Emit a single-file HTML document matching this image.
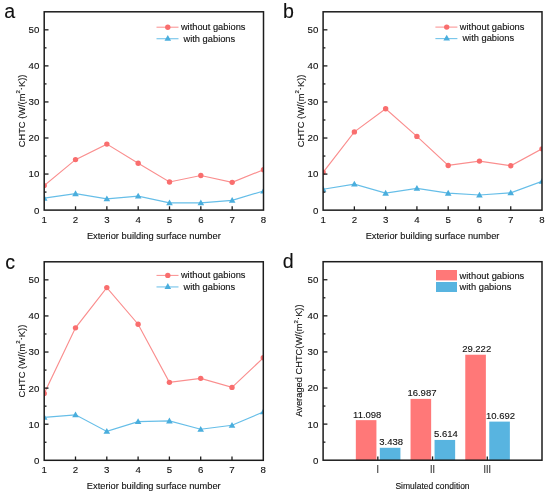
<!DOCTYPE html>
<html><head><meta charset="utf-8"><style>
html,body{margin:0;padding:0;background:#fff;}
svg{display:block;will-change:transform;}
text{font-family:"Liberation Sans",sans-serif;fill:#111;stroke:#111;stroke-width:0.12px;}
</style></head><body>
<svg width="550" height="494" viewBox="0 0 550 494">
<rect width="550" height="494" fill="#fff"/>
<clipPath id="clipa"><rect x="44.2" y="11.8" width="219.3" height="198.3"/></clipPath>
<g clip-path="url(#clipa)">
<polyline points="44.2,185.58 75.53,159.62 106.86,144.12 138.19,163.23 169.51,181.98 200.84,175.49 232.17,182.34 263.5,169.72" fill="none" stroke="#FA8E8E" stroke-width="1.15"/>
<polyline points="44.2,198.2 75.53,193.7 106.86,198.92 138.19,196.04 169.51,202.89 200.84,202.89 232.17,200.37 263.5,190.99" fill="none" stroke="#66BEE8" stroke-width="1.2"/>
<circle cx="44.2" cy="185.58" r="2.7" fill="#F96E6E"/>
<circle cx="75.53" cy="159.62" r="2.7" fill="#F96E6E"/>
<circle cx="106.86" cy="144.12" r="2.7" fill="#F96E6E"/>
<circle cx="138.19" cy="163.23" r="2.7" fill="#F96E6E"/>
<circle cx="169.51" cy="181.98" r="2.7" fill="#F96E6E"/>
<circle cx="200.84" cy="175.49" r="2.7" fill="#F96E6E"/>
<circle cx="232.17" cy="182.34" r="2.7" fill="#F96E6E"/>
<circle cx="263.5" cy="169.72" r="2.7" fill="#F96E6E"/>
<polygon points="40.9,200.64 47.5,200.64 44.2,194.84" fill="#4AAEDD"/>
<polygon points="72.23,196.13 78.83,196.13 75.53,190.33" fill="#4AAEDD"/>
<polygon points="103.56,201.36 110.16,201.36 106.86,195.56" fill="#4AAEDD"/>
<polygon points="134.89,198.47 141.49,198.47 138.19,192.67" fill="#4AAEDD"/>
<polygon points="166.21,205.33 172.81,205.33 169.51,199.53" fill="#4AAEDD"/>
<polygon points="197.54,205.33 204.14,205.33 200.84,199.53" fill="#4AAEDD"/>
<polygon points="228.87,202.8 235.47,202.8 232.17,197" fill="#4AAEDD"/>
<polygon points="260.2,193.43 266.8,193.43 263.5,187.63" fill="#4AAEDD"/>
</g>
<rect x="44.2" y="11.8" width="219.3" height="198.3" fill="none" stroke="#1c1c1c" stroke-width="1.5"/>
<text x="39.4" y="213.5" text-anchor="end" font-size="9.7">0</text>
<line x1="44.2" y1="192.07" x2="46.5" y2="192.07" stroke="#1c1c1c" stroke-width="1.3"/>
<line x1="44.2" y1="174.05" x2="48.5" y2="174.05" stroke="#1c1c1c" stroke-width="1.3"/>
<text x="39.4" y="177.45" text-anchor="end" font-size="9.7">10</text>
<line x1="44.2" y1="156.02" x2="46.5" y2="156.02" stroke="#1c1c1c" stroke-width="1.3"/>
<line x1="44.2" y1="137.99" x2="48.5" y2="137.99" stroke="#1c1c1c" stroke-width="1.3"/>
<text x="39.4" y="141.39" text-anchor="end" font-size="9.7">20</text>
<line x1="44.2" y1="119.96" x2="46.5" y2="119.96" stroke="#1c1c1c" stroke-width="1.3"/>
<line x1="44.2" y1="101.94" x2="48.5" y2="101.94" stroke="#1c1c1c" stroke-width="1.3"/>
<text x="39.4" y="105.34" text-anchor="end" font-size="9.7">30</text>
<line x1="44.2" y1="83.91" x2="46.5" y2="83.91" stroke="#1c1c1c" stroke-width="1.3"/>
<line x1="44.2" y1="65.88" x2="48.5" y2="65.88" stroke="#1c1c1c" stroke-width="1.3"/>
<text x="39.4" y="69.28" text-anchor="end" font-size="9.7">40</text>
<line x1="44.2" y1="47.85" x2="46.5" y2="47.85" stroke="#1c1c1c" stroke-width="1.3"/>
<line x1="44.2" y1="29.83" x2="48.5" y2="29.83" stroke="#1c1c1c" stroke-width="1.3"/>
<text x="39.4" y="33.23" text-anchor="end" font-size="9.7">50</text>
<text x="44.2" y="222.6" text-anchor="middle" font-size="9.7">1</text>
<line x1="75.53" y1="210.1" x2="75.53" y2="206.3" stroke="#1c1c1c" stroke-width="1.3"/>
<text x="75.53" y="222.6" text-anchor="middle" font-size="9.7">2</text>
<line x1="106.86" y1="210.1" x2="106.86" y2="206.3" stroke="#1c1c1c" stroke-width="1.3"/>
<text x="106.86" y="222.6" text-anchor="middle" font-size="9.7">3</text>
<line x1="138.19" y1="210.1" x2="138.19" y2="206.3" stroke="#1c1c1c" stroke-width="1.3"/>
<text x="138.19" y="222.6" text-anchor="middle" font-size="9.7">4</text>
<line x1="169.51" y1="210.1" x2="169.51" y2="206.3" stroke="#1c1c1c" stroke-width="1.3"/>
<text x="169.51" y="222.6" text-anchor="middle" font-size="9.7">5</text>
<line x1="200.84" y1="210.1" x2="200.84" y2="206.3" stroke="#1c1c1c" stroke-width="1.3"/>
<text x="200.84" y="222.6" text-anchor="middle" font-size="9.7">6</text>
<line x1="232.17" y1="210.1" x2="232.17" y2="206.3" stroke="#1c1c1c" stroke-width="1.3"/>
<text x="232.17" y="222.6" text-anchor="middle" font-size="9.7">7</text>
<text x="263.5" y="222.6" text-anchor="middle" font-size="9.7">8</text>
<text x="153.85" y="239" text-anchor="middle" font-size="9.3">Exterior building surface number</text>
<text transform="translate(24.6,110.95) rotate(-90)" text-anchor="middle" font-size="9.3">CHTC (W/(m<tspan font-size="6.2" dy="-4.5">2</tspan><tspan dy="3.5">·</tspan><tspan dy="1">K))</tspan></text>
<line x1="156.5" y1="27.2" x2="178.5" y2="27.2" stroke="#FA8E8E" stroke-width="1"/>
<circle cx="167.8" cy="27.2" r="2.7" fill="#F96E6E"/>
<text x="180.9" y="30.2" font-size="9.3">without gabions</text>
<line x1="156.5" y1="38.75" x2="178.5" y2="38.75" stroke="#66BEE8" stroke-width="1"/>
<polygon points="164.5,40.69 171.1,40.69 167.8,34.89" fill="#4AAEDD"/>
<text x="183.5" y="41.5" font-size="9.3">with gabions</text>
<clipPath id="clipb"><rect x="323.1" y="11.8" width="218.9" height="198.35"/></clipPath>
<g clip-path="url(#clipb)">
<polyline points="323.1,172.28 354.37,131.89 385.64,108.81 416.91,136.4 448.19,165.43 479.46,161.1 510.73,165.79 542,148.84" fill="none" stroke="#FA8E8E" stroke-width="1.15"/>
<polyline points="323.1,189.23 354.37,184.18 385.64,193.2 416.91,188.33 448.19,193.2 479.46,195 510.73,192.84 542,181.3" fill="none" stroke="#66BEE8" stroke-width="1.2"/>
<circle cx="323.1" cy="172.28" r="2.7" fill="#F96E6E"/>
<circle cx="354.37" cy="131.89" r="2.7" fill="#F96E6E"/>
<circle cx="385.64" cy="108.81" r="2.7" fill="#F96E6E"/>
<circle cx="416.91" cy="136.4" r="2.7" fill="#F96E6E"/>
<circle cx="448.19" cy="165.43" r="2.7" fill="#F96E6E"/>
<circle cx="479.46" cy="161.1" r="2.7" fill="#F96E6E"/>
<circle cx="510.73" cy="165.79" r="2.7" fill="#F96E6E"/>
<circle cx="542" cy="148.84" r="2.7" fill="#F96E6E"/>
<polygon points="319.8,191.67 326.4,191.67 323.1,185.87" fill="#4AAEDD"/>
<polygon points="351.07,186.62 357.67,186.62 354.37,180.82" fill="#4AAEDD"/>
<polygon points="382.34,195.64 388.94,195.64 385.64,189.84" fill="#4AAEDD"/>
<polygon points="413.61,190.77 420.21,190.77 416.91,184.97" fill="#4AAEDD"/>
<polygon points="444.89,195.64 451.49,195.64 448.19,189.84" fill="#4AAEDD"/>
<polygon points="476.16,197.44 482.76,197.44 479.46,191.64" fill="#4AAEDD"/>
<polygon points="507.43,195.28 514.03,195.28 510.73,189.48" fill="#4AAEDD"/>
<polygon points="538.7,183.74 545.3,183.74 542,177.94" fill="#4AAEDD"/>
</g>
<rect x="323.1" y="11.8" width="218.9" height="198.35" fill="none" stroke="#1c1c1c" stroke-width="1.5"/>
<text x="318.3" y="213.55" text-anchor="end" font-size="9.7">0</text>
<line x1="323.1" y1="192.12" x2="325.4" y2="192.12" stroke="#1c1c1c" stroke-width="1.3"/>
<line x1="323.1" y1="174.09" x2="327.4" y2="174.09" stroke="#1c1c1c" stroke-width="1.3"/>
<text x="318.3" y="177.49" text-anchor="end" font-size="9.7">10</text>
<line x1="323.1" y1="156.05" x2="325.4" y2="156.05" stroke="#1c1c1c" stroke-width="1.3"/>
<line x1="323.1" y1="138.02" x2="327.4" y2="138.02" stroke="#1c1c1c" stroke-width="1.3"/>
<text x="318.3" y="141.42" text-anchor="end" font-size="9.7">20</text>
<line x1="323.1" y1="119.99" x2="325.4" y2="119.99" stroke="#1c1c1c" stroke-width="1.3"/>
<line x1="323.1" y1="101.96" x2="327.4" y2="101.96" stroke="#1c1c1c" stroke-width="1.3"/>
<text x="318.3" y="105.36" text-anchor="end" font-size="9.7">30</text>
<line x1="323.1" y1="83.93" x2="325.4" y2="83.93" stroke="#1c1c1c" stroke-width="1.3"/>
<line x1="323.1" y1="65.9" x2="327.4" y2="65.9" stroke="#1c1c1c" stroke-width="1.3"/>
<text x="318.3" y="69.3" text-anchor="end" font-size="9.7">40</text>
<line x1="323.1" y1="47.86" x2="325.4" y2="47.86" stroke="#1c1c1c" stroke-width="1.3"/>
<line x1="323.1" y1="29.83" x2="327.4" y2="29.83" stroke="#1c1c1c" stroke-width="1.3"/>
<text x="318.3" y="33.23" text-anchor="end" font-size="9.7">50</text>
<text x="323.1" y="222.65" text-anchor="middle" font-size="9.7">1</text>
<line x1="354.37" y1="210.15" x2="354.37" y2="206.35" stroke="#1c1c1c" stroke-width="1.3"/>
<text x="354.37" y="222.65" text-anchor="middle" font-size="9.7">2</text>
<line x1="385.64" y1="210.15" x2="385.64" y2="206.35" stroke="#1c1c1c" stroke-width="1.3"/>
<text x="385.64" y="222.65" text-anchor="middle" font-size="9.7">3</text>
<line x1="416.91" y1="210.15" x2="416.91" y2="206.35" stroke="#1c1c1c" stroke-width="1.3"/>
<text x="416.91" y="222.65" text-anchor="middle" font-size="9.7">4</text>
<line x1="448.19" y1="210.15" x2="448.19" y2="206.35" stroke="#1c1c1c" stroke-width="1.3"/>
<text x="448.19" y="222.65" text-anchor="middle" font-size="9.7">5</text>
<line x1="479.46" y1="210.15" x2="479.46" y2="206.35" stroke="#1c1c1c" stroke-width="1.3"/>
<text x="479.46" y="222.65" text-anchor="middle" font-size="9.7">6</text>
<line x1="510.73" y1="210.15" x2="510.73" y2="206.35" stroke="#1c1c1c" stroke-width="1.3"/>
<text x="510.73" y="222.65" text-anchor="middle" font-size="9.7">7</text>
<text x="542" y="222.65" text-anchor="middle" font-size="9.7">8</text>
<text x="432.55" y="239.05" text-anchor="middle" font-size="9.3">Exterior building surface number</text>
<text transform="translate(303.5,110.98) rotate(-90)" text-anchor="middle" font-size="9.3">CHTC (W/(m<tspan font-size="6.2" dy="-4.5">2</tspan><tspan dy="3.5">·</tspan><tspan dy="1">K))</tspan></text>
<line x1="435.4" y1="27.1" x2="457.4" y2="27.1" stroke="#FA8E8E" stroke-width="1"/>
<circle cx="446.7" cy="27.1" r="2.7" fill="#F96E6E"/>
<text x="459.8" y="30.1" font-size="9.3">without gabions</text>
<line x1="435.4" y1="38.65" x2="457.4" y2="38.65" stroke="#66BEE8" stroke-width="1"/>
<polygon points="443.4,40.59 450,40.59 446.7,34.79" fill="#4AAEDD"/>
<text x="462.4" y="41.4" font-size="9.3">with gabions</text>
<clipPath id="clipc"><rect x="44.2" y="261.8" width="219.1" height="198.5"/></clipPath>
<g clip-path="url(#clipc)">
<polyline points="44.2,393.53 75.5,327.85 106.8,287.61 138.1,324.24 169.4,382.34 200.7,378.37 232,387.4 263.3,357.8" fill="none" stroke="#FA8E8E" stroke-width="1.15"/>
<polyline points="44.2,417.35 75.5,414.83 106.8,431.43 138.1,421.68 169.4,420.96 200.7,429.26 232,425.29 263.3,411.94" fill="none" stroke="#66BEE8" stroke-width="1.2"/>
<circle cx="44.2" cy="393.53" r="2.7" fill="#F96E6E"/>
<circle cx="75.5" cy="327.85" r="2.7" fill="#F96E6E"/>
<circle cx="106.8" cy="287.61" r="2.7" fill="#F96E6E"/>
<circle cx="138.1" cy="324.24" r="2.7" fill="#F96E6E"/>
<circle cx="169.4" cy="382.34" r="2.7" fill="#F96E6E"/>
<circle cx="200.7" cy="378.37" r="2.7" fill="#F96E6E"/>
<circle cx="232" cy="387.4" r="2.7" fill="#F96E6E"/>
<circle cx="263.3" cy="357.8" r="2.7" fill="#F96E6E"/>
<polygon points="40.9,419.79 47.5,419.79 44.2,413.99" fill="#4AAEDD"/>
<polygon points="72.2,417.26 78.8,417.26 75.5,411.46" fill="#4AAEDD"/>
<polygon points="103.5,433.86 110.1,433.86 106.8,428.06" fill="#4AAEDD"/>
<polygon points="134.8,424.12 141.4,424.12 138.1,418.32" fill="#4AAEDD"/>
<polygon points="166.1,423.4 172.7,423.4 169.4,417.6" fill="#4AAEDD"/>
<polygon points="197.4,431.7 204,431.7 200.7,425.9" fill="#4AAEDD"/>
<polygon points="228.7,427.73 235.3,427.73 232,421.93" fill="#4AAEDD"/>
<polygon points="260,414.37 266.6,414.37 263.3,408.57" fill="#4AAEDD"/>
</g>
<rect x="44.2" y="261.8" width="219.1" height="198.5" fill="none" stroke="#1c1c1c" stroke-width="1.5"/>
<text x="39.4" y="463.7" text-anchor="end" font-size="9.7">0</text>
<line x1="44.2" y1="442.25" x2="46.5" y2="442.25" stroke="#1c1c1c" stroke-width="1.3"/>
<line x1="44.2" y1="424.21" x2="48.5" y2="424.21" stroke="#1c1c1c" stroke-width="1.3"/>
<text x="39.4" y="427.61" text-anchor="end" font-size="9.7">10</text>
<line x1="44.2" y1="406.16" x2="46.5" y2="406.16" stroke="#1c1c1c" stroke-width="1.3"/>
<line x1="44.2" y1="388.12" x2="48.5" y2="388.12" stroke="#1c1c1c" stroke-width="1.3"/>
<text x="39.4" y="391.52" text-anchor="end" font-size="9.7">20</text>
<line x1="44.2" y1="370.07" x2="46.5" y2="370.07" stroke="#1c1c1c" stroke-width="1.3"/>
<line x1="44.2" y1="352.03" x2="48.5" y2="352.03" stroke="#1c1c1c" stroke-width="1.3"/>
<text x="39.4" y="355.43" text-anchor="end" font-size="9.7">30</text>
<line x1="44.2" y1="333.98" x2="46.5" y2="333.98" stroke="#1c1c1c" stroke-width="1.3"/>
<line x1="44.2" y1="315.94" x2="48.5" y2="315.94" stroke="#1c1c1c" stroke-width="1.3"/>
<text x="39.4" y="319.34" text-anchor="end" font-size="9.7">40</text>
<line x1="44.2" y1="297.89" x2="46.5" y2="297.89" stroke="#1c1c1c" stroke-width="1.3"/>
<line x1="44.2" y1="279.85" x2="48.5" y2="279.85" stroke="#1c1c1c" stroke-width="1.3"/>
<text x="39.4" y="283.25" text-anchor="end" font-size="9.7">50</text>
<text x="44.2" y="472.8" text-anchor="middle" font-size="9.7">1</text>
<line x1="75.5" y1="460.3" x2="75.5" y2="456.5" stroke="#1c1c1c" stroke-width="1.3"/>
<text x="75.5" y="472.8" text-anchor="middle" font-size="9.7">2</text>
<line x1="106.8" y1="460.3" x2="106.8" y2="456.5" stroke="#1c1c1c" stroke-width="1.3"/>
<text x="106.8" y="472.8" text-anchor="middle" font-size="9.7">3</text>
<line x1="138.1" y1="460.3" x2="138.1" y2="456.5" stroke="#1c1c1c" stroke-width="1.3"/>
<text x="138.1" y="472.8" text-anchor="middle" font-size="9.7">4</text>
<line x1="169.4" y1="460.3" x2="169.4" y2="456.5" stroke="#1c1c1c" stroke-width="1.3"/>
<text x="169.4" y="472.8" text-anchor="middle" font-size="9.7">5</text>
<line x1="200.7" y1="460.3" x2="200.7" y2="456.5" stroke="#1c1c1c" stroke-width="1.3"/>
<text x="200.7" y="472.8" text-anchor="middle" font-size="9.7">6</text>
<line x1="232" y1="460.3" x2="232" y2="456.5" stroke="#1c1c1c" stroke-width="1.3"/>
<text x="232" y="472.8" text-anchor="middle" font-size="9.7">7</text>
<text x="263.3" y="472.8" text-anchor="middle" font-size="9.7">8</text>
<text x="153.75" y="489.2" text-anchor="middle" font-size="9.3">Exterior building surface number</text>
<text transform="translate(24.6,361.05) rotate(-90)" text-anchor="middle" font-size="9.3">CHTC (W/(m<tspan font-size="6.2" dy="-4.5">2</tspan><tspan dy="3.5">·</tspan><tspan dy="1">K))</tspan></text>
<line x1="156.5" y1="275.4" x2="178.5" y2="275.4" stroke="#FA8E8E" stroke-width="1"/>
<circle cx="167.8" cy="275.4" r="2.7" fill="#F96E6E"/>
<text x="180.9" y="278.4" font-size="9.3">without gabions</text>
<line x1="156.5" y1="286.95" x2="178.5" y2="286.95" stroke="#66BEE8" stroke-width="1"/>
<polygon points="164.5,288.89 171.1,288.89 167.8,283.09" fill="#4AAEDD"/>
<text x="183.5" y="289.7" font-size="9.3">with gabions</text>
<rect x="355.83" y="420.15" width="20.6" height="40.05" fill="#FF7878"/>
<rect x="379.83" y="447.79" width="20.6" height="12.41" fill="#58B4E0"/>
<text x="367.23" y="417.55" text-anchor="middle" font-size="9.5">11.098</text>
<text x="391.13" y="445.19" text-anchor="middle" font-size="9.5">3.438</text>
<line x1="377.83" y1="460.2" x2="377.83" y2="456.4" stroke="#1c1c1c" stroke-width="1.3"/>
<text transform="translate(377.83,473) scale(0.78,1)" x="0" y="0" text-anchor="middle" font-family="Liberation Serif" font-size="11.4" style="stroke:#2a2a2a;stroke-width:0.15px;fill:#2a2a2a">I</text>
<rect x="410.55" y="398.89" width="20.6" height="61.31" fill="#FF7878"/>
<rect x="434.55" y="439.94" width="20.6" height="20.26" fill="#58B4E0"/>
<text x="421.95" y="396.29" text-anchor="middle" font-size="9.5">16.987</text>
<text x="445.85" y="437.34" text-anchor="middle" font-size="9.5">5.614</text>
<line x1="432.55" y1="460.2" x2="432.55" y2="456.4" stroke="#1c1c1c" stroke-width="1.3"/>
<text transform="translate(432.55,473) scale(0.78,1)" x="0" y="0" text-anchor="middle" font-family="Liberation Serif" font-size="11.4" style="stroke:#2a2a2a;stroke-width:0.15px;fill:#2a2a2a">II</text>
<rect x="465.27" y="354.74" width="20.6" height="105.46" fill="#FF7878"/>
<rect x="489.27" y="421.61" width="20.6" height="38.59" fill="#58B4E0"/>
<text x="476.67" y="352.14" text-anchor="middle" font-size="9.5">29.222</text>
<text x="500.57" y="419.01" text-anchor="middle" font-size="9.5">10.692</text>
<line x1="487.27" y1="460.2" x2="487.27" y2="456.4" stroke="#1c1c1c" stroke-width="1.3"/>
<text transform="translate(487.27,473) scale(0.78,1)" x="0" y="0" text-anchor="middle" font-family="Liberation Serif" font-size="11.4" style="stroke:#2a2a2a;stroke-width:0.15px;fill:#2a2a2a">III</text>
<rect x="323.1" y="261.7" width="218.9" height="198.5" fill="none" stroke="#1c1c1c" stroke-width="1.5"/>
<text x="318.3" y="463.6" text-anchor="end" font-size="9.7">0</text>
<line x1="323.1" y1="442.15" x2="325.4" y2="442.15" stroke="#1c1c1c" stroke-width="1.3"/>
<line x1="323.1" y1="424.11" x2="327.4" y2="424.11" stroke="#1c1c1c" stroke-width="1.3"/>
<text x="318.3" y="427.51" text-anchor="end" font-size="9.7">10</text>
<line x1="323.1" y1="406.06" x2="325.4" y2="406.06" stroke="#1c1c1c" stroke-width="1.3"/>
<line x1="323.1" y1="388.02" x2="327.4" y2="388.02" stroke="#1c1c1c" stroke-width="1.3"/>
<text x="318.3" y="391.42" text-anchor="end" font-size="9.7">20</text>
<line x1="323.1" y1="369.97" x2="325.4" y2="369.97" stroke="#1c1c1c" stroke-width="1.3"/>
<line x1="323.1" y1="351.93" x2="327.4" y2="351.93" stroke="#1c1c1c" stroke-width="1.3"/>
<text x="318.3" y="355.33" text-anchor="end" font-size="9.7">30</text>
<line x1="323.1" y1="333.88" x2="325.4" y2="333.88" stroke="#1c1c1c" stroke-width="1.3"/>
<line x1="323.1" y1="315.84" x2="327.4" y2="315.84" stroke="#1c1c1c" stroke-width="1.3"/>
<text x="318.3" y="319.24" text-anchor="end" font-size="9.7">40</text>
<line x1="323.1" y1="297.79" x2="325.4" y2="297.79" stroke="#1c1c1c" stroke-width="1.3"/>
<line x1="323.1" y1="279.75" x2="327.4" y2="279.75" stroke="#1c1c1c" stroke-width="1.3"/>
<text x="318.3" y="283.15" text-anchor="end" font-size="9.7">50</text>
<text x="432.5" y="488.5" text-anchor="middle" font-size="8.5">Simulated condition</text>
<text transform="translate(302.3,360.6) rotate(-90)" text-anchor="middle" font-size="9.3">Averaged CHTC(W/(m<tspan font-size="6.2" dy="-4.5">2</tspan><tspan dy="3.5">·</tspan><tspan dy="1">K))</tspan></text>
<rect x="436" y="270" width="21" height="10.4" fill="#FF7878"/>
<rect x="436" y="282" width="21" height="10" fill="#58B4E0"/>
<text x="459.6" y="278.5" font-size="9.3">without gabions</text>
<text x="459.6" y="290.3" font-size="9.3">with gabions</text>
<text x="4.3" y="18" font-size="19.6">a</text>
<text x="283" y="18" font-size="19.6">b</text>
<text x="5.3" y="268.5" font-size="19.6">c</text>
<text x="282.7" y="268.2" font-size="19.6">d</text>
</svg>
</body></html>
